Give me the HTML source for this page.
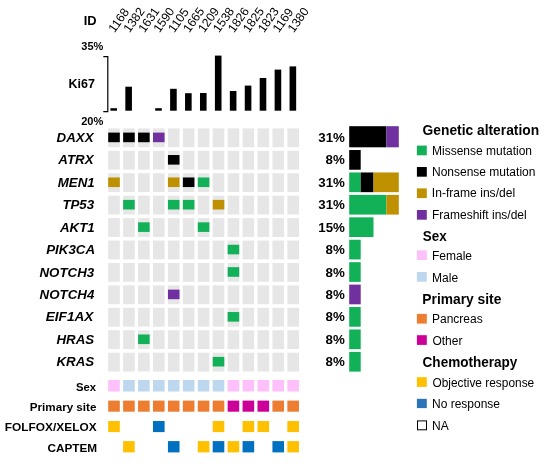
<!DOCTYPE html>
<html><head><meta charset="utf-8"><title>Oncoprint</title>
<style>
html,body{margin:0;padding:0;background:#fff}
svg{display:block}
text{font-family:"Liberation Sans",Arial,sans-serif;fill:#000}
.b{font-weight:bold}
.bi{font-weight:bold;font-style:italic}
</style></head><body>
<svg width="550" height="464" viewBox="0 0 550 464">
<rect width="550" height="464" fill="#fff"/>
<text font-size="12.2" transform="translate(114.60,33.3) rotate(-55)">1168</text>
<text font-size="12.2" transform="translate(129.53,33.3) rotate(-55)">1382</text>
<text font-size="12.2" transform="translate(144.46,33.3) rotate(-55)">1631</text>
<text font-size="12.2" transform="translate(159.39,33.3) rotate(-55)">1590</text>
<text font-size="12.2" transform="translate(174.32,33.3) rotate(-55)">1105</text>
<text font-size="12.2" transform="translate(189.25,33.3) rotate(-55)">1665</text>
<text font-size="12.2" transform="translate(204.18,33.3) rotate(-55)">1209</text>
<text font-size="12.2" transform="translate(219.11,33.3) rotate(-55)">1538</text>
<text font-size="12.2" transform="translate(234.04,33.3) rotate(-55)">1826</text>
<text font-size="12.2" transform="translate(248.97,33.3) rotate(-55)">1825</text>
<text font-size="12.2" transform="translate(263.90,33.3) rotate(-55)">1823</text>
<text font-size="12.2" transform="translate(278.83,33.3) rotate(-55)">1169</text>
<text font-size="12.2" transform="translate(293.76,33.3) rotate(-55)">1380</text>
<path d="M103.3 56.7H107.8V111.6H103.3" fill="none" stroke="#000" stroke-width="1.2"/>
<rect x="110.40" y="108.2" width="6.6" height="2.5" fill="#000"/>
<rect x="125.33" y="86.7" width="6.6" height="24.0" fill="#000"/>
<rect x="155.19" y="108.2" width="6.6" height="2.5" fill="#000"/>
<rect x="170.12" y="88.8" width="6.6" height="21.9" fill="#000"/>
<rect x="185.05" y="93.2" width="6.6" height="17.5" fill="#000"/>
<rect x="199.98" y="93.0" width="6.6" height="17.7" fill="#000"/>
<rect x="214.91" y="55.6" width="6.6" height="55.1" fill="#000"/>
<rect x="229.84" y="91.0" width="6.6" height="19.7" fill="#000"/>
<rect x="244.77" y="85.6" width="6.6" height="25.1" fill="#000"/>
<rect x="259.70" y="78.0" width="6.6" height="32.7" fill="#000"/>
<rect x="274.63" y="69.6" width="6.6" height="41.1" fill="#000"/>
<rect x="289.56" y="66.4" width="6.6" height="44.3" fill="#000"/>
<rect x="108.20" y="128.40" width="11.6" height="18.8" fill="#e6e6e6"/>
<rect x="123.13" y="128.40" width="11.6" height="18.8" fill="#e6e6e6"/>
<rect x="138.06" y="128.40" width="11.6" height="18.8" fill="#e6e6e6"/>
<rect x="152.99" y="128.40" width="11.6" height="18.8" fill="#e6e6e6"/>
<rect x="167.92" y="128.40" width="11.6" height="18.8" fill="#e6e6e6"/>
<rect x="182.85" y="128.40" width="11.6" height="18.8" fill="#e6e6e6"/>
<rect x="197.78" y="128.40" width="11.6" height="18.8" fill="#e6e6e6"/>
<rect x="212.71" y="128.40" width="11.6" height="18.8" fill="#e6e6e6"/>
<rect x="227.64" y="128.40" width="11.6" height="18.8" fill="#e6e6e6"/>
<rect x="242.57" y="128.40" width="11.6" height="18.8" fill="#e6e6e6"/>
<rect x="257.50" y="128.40" width="11.6" height="18.8" fill="#e6e6e6"/>
<rect x="272.43" y="128.40" width="11.6" height="18.8" fill="#e6e6e6"/>
<rect x="287.36" y="128.40" width="11.6" height="18.8" fill="#e6e6e6"/>
<rect x="108.20" y="132.60" width="11.6" height="9.6" fill="#000000"/>
<rect x="123.13" y="132.60" width="11.6" height="9.6" fill="#000000"/>
<rect x="138.06" y="132.60" width="11.6" height="9.6" fill="#000000"/>
<rect x="152.99" y="132.60" width="11.6" height="9.6" fill="#7030a0"/>
<rect x="349.2" y="126.20" width="37.2" height="21.10" fill="#000000"/>
<rect x="386.4" y="126.20" width="12.4" height="21.10" fill="#7030a0"/>
<rect x="108.20" y="150.83" width="11.6" height="18.8" fill="#e6e6e6"/>
<rect x="123.13" y="150.83" width="11.6" height="18.8" fill="#e6e6e6"/>
<rect x="138.06" y="150.83" width="11.6" height="18.8" fill="#e6e6e6"/>
<rect x="152.99" y="150.83" width="11.6" height="18.8" fill="#e6e6e6"/>
<rect x="167.92" y="150.83" width="11.6" height="18.8" fill="#e6e6e6"/>
<rect x="182.85" y="150.83" width="11.6" height="18.8" fill="#e6e6e6"/>
<rect x="197.78" y="150.83" width="11.6" height="18.8" fill="#e6e6e6"/>
<rect x="212.71" y="150.83" width="11.6" height="18.8" fill="#e6e6e6"/>
<rect x="227.64" y="150.83" width="11.6" height="18.8" fill="#e6e6e6"/>
<rect x="242.57" y="150.83" width="11.6" height="18.8" fill="#e6e6e6"/>
<rect x="257.50" y="150.83" width="11.6" height="18.8" fill="#e6e6e6"/>
<rect x="272.43" y="150.83" width="11.6" height="18.8" fill="#e6e6e6"/>
<rect x="287.36" y="150.83" width="11.6" height="18.8" fill="#e6e6e6"/>
<rect x="167.92" y="155.03" width="11.6" height="9.6" fill="#000000"/>
<rect x="349.2" y="150.03" width="11.5" height="19.70" fill="#000000"/>
<rect x="108.20" y="173.26" width="11.6" height="18.8" fill="#e6e6e6"/>
<rect x="123.13" y="173.26" width="11.6" height="18.8" fill="#e6e6e6"/>
<rect x="138.06" y="173.26" width="11.6" height="18.8" fill="#e6e6e6"/>
<rect x="152.99" y="173.26" width="11.6" height="18.8" fill="#e6e6e6"/>
<rect x="167.92" y="173.26" width="11.6" height="18.8" fill="#e6e6e6"/>
<rect x="182.85" y="173.26" width="11.6" height="18.8" fill="#e6e6e6"/>
<rect x="197.78" y="173.26" width="11.6" height="18.8" fill="#e6e6e6"/>
<rect x="212.71" y="173.26" width="11.6" height="18.8" fill="#e6e6e6"/>
<rect x="227.64" y="173.26" width="11.6" height="18.8" fill="#e6e6e6"/>
<rect x="242.57" y="173.26" width="11.6" height="18.8" fill="#e6e6e6"/>
<rect x="257.50" y="173.26" width="11.6" height="18.8" fill="#e6e6e6"/>
<rect x="272.43" y="173.26" width="11.6" height="18.8" fill="#e6e6e6"/>
<rect x="287.36" y="173.26" width="11.6" height="18.8" fill="#e6e6e6"/>
<rect x="108.20" y="177.46" width="11.6" height="9.6" fill="#bf9000"/>
<rect x="167.92" y="177.46" width="11.6" height="9.6" fill="#bf9000"/>
<rect x="182.85" y="177.46" width="11.6" height="9.6" fill="#000000"/>
<rect x="197.78" y="177.46" width="11.6" height="9.6" fill="#12b158"/>
<rect x="349.2" y="172.46" width="11.5" height="19.70" fill="#12b158"/>
<rect x="360.7" y="172.46" width="12.8" height="19.70" fill="#000000"/>
<rect x="373.5" y="172.46" width="25.3" height="19.70" fill="#bf9000"/>
<rect x="108.20" y="195.69" width="11.6" height="18.8" fill="#e6e6e6"/>
<rect x="123.13" y="195.69" width="11.6" height="18.8" fill="#e6e6e6"/>
<rect x="138.06" y="195.69" width="11.6" height="18.8" fill="#e6e6e6"/>
<rect x="152.99" y="195.69" width="11.6" height="18.8" fill="#e6e6e6"/>
<rect x="167.92" y="195.69" width="11.6" height="18.8" fill="#e6e6e6"/>
<rect x="182.85" y="195.69" width="11.6" height="18.8" fill="#e6e6e6"/>
<rect x="197.78" y="195.69" width="11.6" height="18.8" fill="#e6e6e6"/>
<rect x="212.71" y="195.69" width="11.6" height="18.8" fill="#e6e6e6"/>
<rect x="227.64" y="195.69" width="11.6" height="18.8" fill="#e6e6e6"/>
<rect x="242.57" y="195.69" width="11.6" height="18.8" fill="#e6e6e6"/>
<rect x="257.50" y="195.69" width="11.6" height="18.8" fill="#e6e6e6"/>
<rect x="272.43" y="195.69" width="11.6" height="18.8" fill="#e6e6e6"/>
<rect x="287.36" y="195.69" width="11.6" height="18.8" fill="#e6e6e6"/>
<rect x="123.13" y="199.89" width="11.6" height="9.6" fill="#12b158"/>
<rect x="167.92" y="199.89" width="11.6" height="9.6" fill="#12b158"/>
<rect x="182.85" y="199.89" width="11.6" height="9.6" fill="#12b158"/>
<rect x="212.71" y="199.89" width="11.6" height="9.6" fill="#bf9000"/>
<rect x="349.2" y="194.89" width="37.2" height="19.70" fill="#12b158"/>
<rect x="386.4" y="194.89" width="12.4" height="19.70" fill="#bf9000"/>
<rect x="108.20" y="218.12" width="11.6" height="18.8" fill="#e6e6e6"/>
<rect x="123.13" y="218.12" width="11.6" height="18.8" fill="#e6e6e6"/>
<rect x="138.06" y="218.12" width="11.6" height="18.8" fill="#e6e6e6"/>
<rect x="152.99" y="218.12" width="11.6" height="18.8" fill="#e6e6e6"/>
<rect x="167.92" y="218.12" width="11.6" height="18.8" fill="#e6e6e6"/>
<rect x="182.85" y="218.12" width="11.6" height="18.8" fill="#e6e6e6"/>
<rect x="197.78" y="218.12" width="11.6" height="18.8" fill="#e6e6e6"/>
<rect x="212.71" y="218.12" width="11.6" height="18.8" fill="#e6e6e6"/>
<rect x="227.64" y="218.12" width="11.6" height="18.8" fill="#e6e6e6"/>
<rect x="242.57" y="218.12" width="11.6" height="18.8" fill="#e6e6e6"/>
<rect x="257.50" y="218.12" width="11.6" height="18.8" fill="#e6e6e6"/>
<rect x="272.43" y="218.12" width="11.6" height="18.8" fill="#e6e6e6"/>
<rect x="287.36" y="218.12" width="11.6" height="18.8" fill="#e6e6e6"/>
<rect x="138.06" y="222.32" width="11.6" height="9.6" fill="#12b158"/>
<rect x="197.78" y="222.32" width="11.6" height="9.6" fill="#12b158"/>
<rect x="349.2" y="217.32" width="24.3" height="19.70" fill="#12b158"/>
<rect x="108.20" y="240.55" width="11.6" height="18.8" fill="#e6e6e6"/>
<rect x="123.13" y="240.55" width="11.6" height="18.8" fill="#e6e6e6"/>
<rect x="138.06" y="240.55" width="11.6" height="18.8" fill="#e6e6e6"/>
<rect x="152.99" y="240.55" width="11.6" height="18.8" fill="#e6e6e6"/>
<rect x="167.92" y="240.55" width="11.6" height="18.8" fill="#e6e6e6"/>
<rect x="182.85" y="240.55" width="11.6" height="18.8" fill="#e6e6e6"/>
<rect x="197.78" y="240.55" width="11.6" height="18.8" fill="#e6e6e6"/>
<rect x="212.71" y="240.55" width="11.6" height="18.8" fill="#e6e6e6"/>
<rect x="227.64" y="240.55" width="11.6" height="18.8" fill="#e6e6e6"/>
<rect x="242.57" y="240.55" width="11.6" height="18.8" fill="#e6e6e6"/>
<rect x="257.50" y="240.55" width="11.6" height="18.8" fill="#e6e6e6"/>
<rect x="272.43" y="240.55" width="11.6" height="18.8" fill="#e6e6e6"/>
<rect x="287.36" y="240.55" width="11.6" height="18.8" fill="#e6e6e6"/>
<rect x="227.64" y="244.75" width="11.6" height="9.6" fill="#12b158"/>
<rect x="349.2" y="239.75" width="11.5" height="19.70" fill="#12b158"/>
<rect x="108.20" y="262.98" width="11.6" height="18.8" fill="#e6e6e6"/>
<rect x="123.13" y="262.98" width="11.6" height="18.8" fill="#e6e6e6"/>
<rect x="138.06" y="262.98" width="11.6" height="18.8" fill="#e6e6e6"/>
<rect x="152.99" y="262.98" width="11.6" height="18.8" fill="#e6e6e6"/>
<rect x="167.92" y="262.98" width="11.6" height="18.8" fill="#e6e6e6"/>
<rect x="182.85" y="262.98" width="11.6" height="18.8" fill="#e6e6e6"/>
<rect x="197.78" y="262.98" width="11.6" height="18.8" fill="#e6e6e6"/>
<rect x="212.71" y="262.98" width="11.6" height="18.8" fill="#e6e6e6"/>
<rect x="227.64" y="262.98" width="11.6" height="18.8" fill="#e6e6e6"/>
<rect x="242.57" y="262.98" width="11.6" height="18.8" fill="#e6e6e6"/>
<rect x="257.50" y="262.98" width="11.6" height="18.8" fill="#e6e6e6"/>
<rect x="272.43" y="262.98" width="11.6" height="18.8" fill="#e6e6e6"/>
<rect x="287.36" y="262.98" width="11.6" height="18.8" fill="#e6e6e6"/>
<rect x="227.64" y="267.18" width="11.6" height="9.6" fill="#12b158"/>
<rect x="349.2" y="262.18" width="11.5" height="19.70" fill="#12b158"/>
<rect x="108.20" y="285.41" width="11.6" height="18.8" fill="#e6e6e6"/>
<rect x="123.13" y="285.41" width="11.6" height="18.8" fill="#e6e6e6"/>
<rect x="138.06" y="285.41" width="11.6" height="18.8" fill="#e6e6e6"/>
<rect x="152.99" y="285.41" width="11.6" height="18.8" fill="#e6e6e6"/>
<rect x="167.92" y="285.41" width="11.6" height="18.8" fill="#e6e6e6"/>
<rect x="182.85" y="285.41" width="11.6" height="18.8" fill="#e6e6e6"/>
<rect x="197.78" y="285.41" width="11.6" height="18.8" fill="#e6e6e6"/>
<rect x="212.71" y="285.41" width="11.6" height="18.8" fill="#e6e6e6"/>
<rect x="227.64" y="285.41" width="11.6" height="18.8" fill="#e6e6e6"/>
<rect x="242.57" y="285.41" width="11.6" height="18.8" fill="#e6e6e6"/>
<rect x="257.50" y="285.41" width="11.6" height="18.8" fill="#e6e6e6"/>
<rect x="272.43" y="285.41" width="11.6" height="18.8" fill="#e6e6e6"/>
<rect x="287.36" y="285.41" width="11.6" height="18.8" fill="#e6e6e6"/>
<rect x="167.92" y="289.61" width="11.6" height="9.6" fill="#7030a0"/>
<rect x="349.2" y="284.61" width="11.5" height="19.70" fill="#7030a0"/>
<rect x="108.20" y="307.84" width="11.6" height="18.8" fill="#e6e6e6"/>
<rect x="123.13" y="307.84" width="11.6" height="18.8" fill="#e6e6e6"/>
<rect x="138.06" y="307.84" width="11.6" height="18.8" fill="#e6e6e6"/>
<rect x="152.99" y="307.84" width="11.6" height="18.8" fill="#e6e6e6"/>
<rect x="167.92" y="307.84" width="11.6" height="18.8" fill="#e6e6e6"/>
<rect x="182.85" y="307.84" width="11.6" height="18.8" fill="#e6e6e6"/>
<rect x="197.78" y="307.84" width="11.6" height="18.8" fill="#e6e6e6"/>
<rect x="212.71" y="307.84" width="11.6" height="18.8" fill="#e6e6e6"/>
<rect x="227.64" y="307.84" width="11.6" height="18.8" fill="#e6e6e6"/>
<rect x="242.57" y="307.84" width="11.6" height="18.8" fill="#e6e6e6"/>
<rect x="257.50" y="307.84" width="11.6" height="18.8" fill="#e6e6e6"/>
<rect x="272.43" y="307.84" width="11.6" height="18.8" fill="#e6e6e6"/>
<rect x="287.36" y="307.84" width="11.6" height="18.8" fill="#e6e6e6"/>
<rect x="227.64" y="312.04" width="11.6" height="9.6" fill="#12b158"/>
<rect x="349.2" y="307.04" width="11.5" height="19.70" fill="#12b158"/>
<rect x="108.20" y="330.27" width="11.6" height="18.8" fill="#e6e6e6"/>
<rect x="123.13" y="330.27" width="11.6" height="18.8" fill="#e6e6e6"/>
<rect x="138.06" y="330.27" width="11.6" height="18.8" fill="#e6e6e6"/>
<rect x="152.99" y="330.27" width="11.6" height="18.8" fill="#e6e6e6"/>
<rect x="167.92" y="330.27" width="11.6" height="18.8" fill="#e6e6e6"/>
<rect x="182.85" y="330.27" width="11.6" height="18.8" fill="#e6e6e6"/>
<rect x="197.78" y="330.27" width="11.6" height="18.8" fill="#e6e6e6"/>
<rect x="212.71" y="330.27" width="11.6" height="18.8" fill="#e6e6e6"/>
<rect x="227.64" y="330.27" width="11.6" height="18.8" fill="#e6e6e6"/>
<rect x="242.57" y="330.27" width="11.6" height="18.8" fill="#e6e6e6"/>
<rect x="257.50" y="330.27" width="11.6" height="18.8" fill="#e6e6e6"/>
<rect x="272.43" y="330.27" width="11.6" height="18.8" fill="#e6e6e6"/>
<rect x="287.36" y="330.27" width="11.6" height="18.8" fill="#e6e6e6"/>
<rect x="138.06" y="334.47" width="11.6" height="9.6" fill="#12b158"/>
<rect x="349.2" y="329.47" width="11.5" height="19.70" fill="#12b158"/>
<rect x="108.20" y="352.70" width="11.6" height="18.8" fill="#e6e6e6"/>
<rect x="123.13" y="352.70" width="11.6" height="18.8" fill="#e6e6e6"/>
<rect x="138.06" y="352.70" width="11.6" height="18.8" fill="#e6e6e6"/>
<rect x="152.99" y="352.70" width="11.6" height="18.8" fill="#e6e6e6"/>
<rect x="167.92" y="352.70" width="11.6" height="18.8" fill="#e6e6e6"/>
<rect x="182.85" y="352.70" width="11.6" height="18.8" fill="#e6e6e6"/>
<rect x="197.78" y="352.70" width="11.6" height="18.8" fill="#e6e6e6"/>
<rect x="212.71" y="352.70" width="11.6" height="18.8" fill="#e6e6e6"/>
<rect x="227.64" y="352.70" width="11.6" height="18.8" fill="#e6e6e6"/>
<rect x="242.57" y="352.70" width="11.6" height="18.8" fill="#e6e6e6"/>
<rect x="257.50" y="352.70" width="11.6" height="18.8" fill="#e6e6e6"/>
<rect x="272.43" y="352.70" width="11.6" height="18.8" fill="#e6e6e6"/>
<rect x="287.36" y="352.70" width="11.6" height="18.8" fill="#e6e6e6"/>
<rect x="212.71" y="356.90" width="11.6" height="9.6" fill="#12b158"/>
<rect x="349.2" y="351.90" width="11.5" height="19.70" fill="#12b158"/>
<rect x="108.20" y="380.0" width="11.6" height="11.5" fill="#fdc0fa"/>
<rect x="123.13" y="380.0" width="11.6" height="11.5" fill="#bdd7ee"/>
<rect x="138.06" y="380.0" width="11.6" height="11.5" fill="#bdd7ee"/>
<rect x="152.99" y="380.0" width="11.6" height="11.5" fill="#bdd7ee"/>
<rect x="167.92" y="380.0" width="11.6" height="11.5" fill="#bdd7ee"/>
<rect x="182.85" y="380.0" width="11.6" height="11.5" fill="#bdd7ee"/>
<rect x="197.78" y="380.0" width="11.6" height="11.5" fill="#bdd7ee"/>
<rect x="212.71" y="380.0" width="11.6" height="11.5" fill="#bdd7ee"/>
<rect x="227.64" y="380.0" width="11.6" height="11.5" fill="#fdc0fa"/>
<rect x="242.57" y="380.0" width="11.6" height="11.5" fill="#fdc0fa"/>
<rect x="257.50" y="380.0" width="11.6" height="11.5" fill="#fdc0fa"/>
<rect x="272.43" y="380.0" width="11.6" height="11.5" fill="#fdc0fa"/>
<rect x="287.36" y="380.0" width="11.6" height="11.5" fill="#fdc0fa"/>
<rect x="108.20" y="400.6" width="11.6" height="11.1" fill="#ed7d31"/>
<rect x="123.13" y="400.6" width="11.6" height="11.1" fill="#ed7d31"/>
<rect x="138.06" y="400.6" width="11.6" height="11.1" fill="#ed7d31"/>
<rect x="152.99" y="400.6" width="11.6" height="11.1" fill="#ed7d31"/>
<rect x="167.92" y="400.6" width="11.6" height="11.1" fill="#ed7d31"/>
<rect x="182.85" y="400.6" width="11.6" height="11.1" fill="#ed7d31"/>
<rect x="197.78" y="400.6" width="11.6" height="11.1" fill="#ed7d31"/>
<rect x="212.71" y="400.6" width="11.6" height="11.1" fill="#ed7d31"/>
<rect x="227.64" y="400.6" width="11.6" height="11.1" fill="#cc0099"/>
<rect x="242.57" y="400.6" width="11.6" height="11.1" fill="#cc0099"/>
<rect x="257.50" y="400.6" width="11.6" height="11.1" fill="#cc0099"/>
<rect x="272.43" y="400.6" width="11.6" height="11.1" fill="#ed7d31"/>
<rect x="287.36" y="400.6" width="11.6" height="11.1" fill="#ed7d31"/>
<rect x="108.20" y="421.0" width="11.6" height="11.1" fill="#ffc000"/>
<rect x="152.99" y="421.0" width="11.6" height="11.1" fill="#0070c0"/>
<rect x="212.71" y="421.0" width="11.6" height="11.1" fill="#ffc000"/>
<rect x="242.57" y="421.0" width="11.6" height="11.1" fill="#ffc000"/>
<rect x="257.50" y="421.0" width="11.6" height="11.1" fill="#ffc000"/>
<rect x="287.36" y="421.0" width="11.6" height="11.1" fill="#ffc000"/>
<rect x="123.13" y="441.1" width="11.6" height="11.3" fill="#ffc000"/>
<rect x="167.92" y="441.1" width="11.6" height="11.3" fill="#0070c0"/>
<rect x="197.78" y="441.1" width="11.6" height="11.3" fill="#ffc000"/>
<rect x="212.71" y="441.1" width="11.6" height="11.3" fill="#0070c0"/>
<rect x="227.64" y="441.1" width="11.6" height="11.3" fill="#ffc000"/>
<rect x="242.57" y="441.1" width="11.6" height="11.3" fill="#0070c0"/>
<rect x="272.43" y="441.1" width="11.6" height="11.3" fill="#0070c0"/>
<rect x="287.36" y="441.1" width="11.6" height="11.3" fill="#ffc000"/>
<rect x="416.9" y="145.6" width="9.9" height="9.7" fill="#12b158"/>
<rect x="416.9" y="167.0" width="9.9" height="9.7" fill="#000000"/>
<rect x="416.9" y="188.4" width="9.9" height="9.7" fill="#bf9000"/>
<rect x="416.9" y="210.0" width="9.9" height="9.7" fill="#7030a0"/>
<rect x="416.9" y="250.3" width="9.9" height="9.7" fill="#fdc0fa"/>
<rect x="416.9" y="272.0" width="9.9" height="9.7" fill="#bdd7ee"/>
<rect x="416.9" y="313.9" width="9.9" height="9.7" fill="#ed7d31"/>
<rect x="416.9" y="335.2" width="9.9" height="9.7" fill="#cc0099"/>
<rect x="416.9" y="377.2" width="9.9" height="9.7" fill="#ffc000"/>
<rect x="416.9" y="398.8" width="9.9" height="9.3" fill="#2c74b8"/>
<rect x="417.5" y="420.9" width="9" height="8.9" fill="#fff" stroke="#000" stroke-width="1"/>
<text class="bi" x="56.60" y="142.0" font-size="13.3">DAXX</text>
<text class="bi" x="58.35" y="164.4" font-size="13.3">ATRX</text>
<text class="bi" x="57.75" y="186.9" font-size="13.3">MEN1</text>
<text class="bi" x="62.38" y="209.3" font-size="13.3">TP53</text>
<text class="bi" x="60.00" y="231.7" font-size="13.3">AKT1</text>
<text class="bi" x="46.25" y="254.2" font-size="13.3">PIK3CA</text>
<text class="bi" x="39.50" y="276.6" font-size="13.3">NOTCH3</text>
<text class="bi" x="39.62" y="299.0" font-size="13.3">NOTCH4</text>
<text class="bi" font-size="13.3" transform="translate(45.74,321.4) scale(1.0240,1)">EIF1AX</text>
<text class="bi" x="56.50" y="343.9" font-size="13.3">HRAS</text>
<text class="bi" x="56.50" y="366.3" font-size="13.3">KRAS</text>
<text class="b" font-size="11.2" transform="translate(76.02,390.7) scale(1.0116,1)">Sex</text>
<text class="b" font-size="11.2" transform="translate(29.82,410.7) scale(1.0402,1)">Primary site</text>
<text class="b" font-size="11.2" transform="translate(4.80,431.1) scale(1.0620,1)">FOLFOX/XELOX</text>
<text class="b" font-size="11.2" transform="translate(47.47,451.5) scale(1.0522,1)">CAPTEM</text>
<text class="b" x="318.25" y="142.0" font-size="13.3">31%</text>
<text class="b" x="325.62" y="164.4" font-size="13.3">8%</text>
<text class="b" x="318.25" y="186.9" font-size="13.3">31%</text>
<text class="b" x="318.25" y="209.3" font-size="13.3">31%</text>
<text class="b" x="318.25" y="231.7" font-size="13.3">15%</text>
<text class="b" x="325.62" y="254.2" font-size="13.3">8%</text>
<text class="b" x="325.62" y="276.6" font-size="13.3">8%</text>
<text class="b" x="325.62" y="299.0" font-size="13.3">8%</text>
<text class="b" x="325.62" y="321.4" font-size="13.3">8%</text>
<text class="b" x="325.62" y="343.9" font-size="13.3">8%</text>
<text class="b" x="325.62" y="366.3" font-size="13.3">8%</text>
<text class="b" font-size="10.1" transform="translate(81.33,49.6) scale(1.0904,1)">35%</text>
<text class="b" font-size="10.1" transform="translate(81.19,125.4) scale(1.0974,1)">20%</text>
<text class="b" font-size="12.8" transform="translate(68.55,87.6) scale(0.9756,1)">Ki67</text>
<text class="b" font-size="12.3" transform="translate(83.68,24.8) scale(1.0483,1)">ID</text>
<text class="b" x="422.58" y="135.0" font-size="13.8">Genetic alteration</text>
<text class="b" font-size="13.8" transform="translate(422.83,240.5) scale(0.9750,1)">Sex</text>
<text class="b" x="422.33" y="303.9" font-size="13.8">Primary site</text>
<text class="b" font-size="13.8" transform="translate(422.59,367.4) scale(0.9825,1)">Chemotherapy</text>
<text x="432.00" y="154.5" font-size="12.0">Missense mutation</text>
<text x="432.00" y="175.9" font-size="12.0">Nonsense mutation</text>
<text font-size="12.0" transform="translate(431.87,197.3) scale(1.0080,1)">In-frame ins/del</text>
<text x="432.00" y="218.9" font-size="12.0">Frameshift ins/del</text>
<text x="432.00" y="259.9" font-size="12.0">Female</text>
<text font-size="12.0" transform="translate(432.00,281.6) scale(1.0041,1)">Male</text>
<text x="432.00" y="323.4" font-size="12.0">Pancreas</text>
<text x="432.38" y="344.8" font-size="12.0">Other</text>
<text font-size="12.0" transform="translate(432.38,386.8) scale(0.9929,1)">Objective response</text>
<text x="432.00" y="408.4" font-size="12.0">No response</text>
<text x="432.00" y="429.9" font-size="12.0">NA</text>
</svg>
</body></html>
